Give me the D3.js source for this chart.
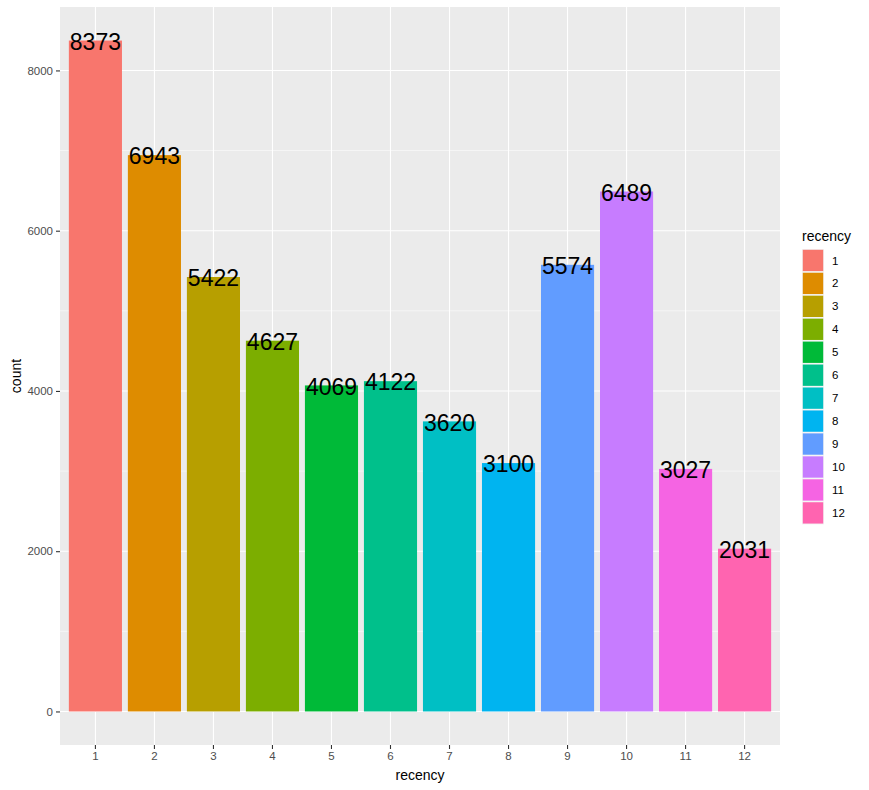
<!DOCTYPE html>
<html>
<head>
<meta charset="utf-8">
<script src="https://cdn.jsdelivr.net/npm/d3@7"></script>
<style>
body { margin: 0; background: #fff; }
text { font-family: Arial, "Liberation Sans", sans-serif; }
</style>
</head>
<body>
<div id="chart"></div>
<script>
var categories = ["1", "2", "3", "4", "5", "6", "7", "8", "9", "10", "11", "12"];
var counts = [8373, 6943, 5422, 4627, 4069, 4122, 3620, 3100, 5574, 6489, 3027, 2031];
var colors = ["#F8766D", "#DE8C00", "#B79F00", "#7CAE00", "#00BA38", "#00C08B",
              "#00BFC4", "#00B4F0", "#619CFF", "#C77CFF", "#F564E3", "#FF64B0"];
var yTicks = [0, 2000, 4000, 6000, 8000];
var yMinor = [1000, 3000, 5000, 7000];

var W = 869, H = 790;
var panel = { left: 60, top: 7, right: 780, bottom: 745 };

var svg = d3.select("#chart").append("svg")
    .attr("width", W)
    .attr("height", H);

var maxC = d3.max(counts);
var y = d3.scaleLinear()
    .domain([-0.05 * maxC, 1.05 * maxC])
    .range([panel.bottom, panel.top]);

// discrete scale with 0.6 expansion on each side
var step = (panel.right - panel.left) / (categories.length + 0.2);
var x = d3.scaleBand()
    .domain(categories)
    .range([panel.left + 0.1 * step, panel.right - 0.1 * step])
    .paddingInner(0.1)
    .paddingOuter(0.05);
function xc(c) { return x(c) + x.bandwidth() / 2; }

// panel background
svg.append("rect")
    .attr("x", panel.left).attr("y", panel.top)
    .attr("width", panel.right - panel.left)
    .attr("height", panel.bottom - panel.top)
    .attr("fill", "#EBEBEB");

var grid = svg.append("g");
grid.selectAll(".minor").data(yMinor).enter().append("line")
    .attr("x1", panel.left).attr("x2", panel.right)
    .attr("y1", function (d) { return y(d); })
    .attr("y2", function (d) { return y(d); })
    .attr("stroke", "#fff").attr("stroke-width", 0.55);
grid.selectAll(".major").data(yTicks).enter().append("line")
    .attr("x1", panel.left).attr("x2", panel.right)
    .attr("y1", function (d) { return y(d); })
    .attr("y2", function (d) { return y(d); })
    .attr("stroke", "#fff").attr("stroke-width", 1.1);
grid.selectAll(".vmajor").data(categories).enter().append("line")
    .attr("y1", panel.top).attr("y2", panel.bottom)
    .attr("x1", function (d) { return xc(d); })
    .attr("x2", function (d) { return xc(d); })
    .attr("stroke", "#fff").attr("stroke-width", 1.1);

// bars
svg.append("g").selectAll("rect")
    .data(categories)
    .enter()
    .append("rect")
    .attr("x", function (d) { return x(d); })
    .attr("width", x.bandwidth())
    .attr("y", function (d, i) { return y(counts[i]); })
    .attr("height", function (d, i) { return y(0) - y(counts[i]); })
    .attr("fill", function (d, i) { return colors[i]; });

// value labels
svg.append("g").selectAll("text")
    .data(categories)
    .enter()
    .append("text")
    .attr("x", function (d) { return xc(d); })
    .attr("y", function (d, i) { return y(counts[i]); })
    .attr("dy", "0.4em")
    .attr("text-anchor", "middle")
    .attr("font-size", 23)
    .attr("fill", "#000")
    .text(function (d, i) { return counts[i]; });

// axes
var yAxis = svg.append("g")
    .attr("transform", "translate(" + panel.left + ",0)")
    .call(d3.axisLeft(y).tickValues(yTicks).tickSize(4).tickPadding(3).tickFormat(d3.format("d")));
var xAxis = svg.append("g")
    .attr("transform", "translate(0," + panel.bottom + ")")
    .call(d3.axisBottom(x).tickSize(4).tickPadding(3));
[yAxis, xAxis].forEach(function (a) {
    a.select(".domain").remove();
    a.selectAll(".tick line").attr("stroke", "#333").attr("stroke-width", 1.1);
    a.selectAll(".tick text").attr("fill", "#4D4D4D").attr("font-size", 11.5)
        .style("font-family", "Arial, 'Liberation Sans', sans-serif");
});

// axis titles
svg.append("text")
    .attr("x", (panel.left + panel.right) / 2)
    .attr("y", 780)
    .attr("text-anchor", "middle")
    .attr("font-size", 14)
    .attr("fill", "#000")
    .text("recency");
svg.append("text")
    .attr("transform", "rotate(-90)")
    .attr("x", -(panel.top + panel.bottom) / 2)
    .attr("y", 21)
    .attr("text-anchor", "middle")
    .attr("font-size", 14)
    .attr("fill", "#000")
    .text("count");

// legend
var legend = svg.append("g")
    .attr("transform", "translate(802,249)");
legend.append("text")
    .attr("x", 0).attr("y", -8)
    .attr("font-size", 14)
    .attr("fill", "#000")
    .text("recency");
categories.forEach(function (d, i) {
    var item = legend.append("g")
        .attr("transform", "translate(0," + (i * 22.95) + ")");
    item.append("rect")
        .attr("width", 22).attr("height", 22.95)
        .attr("fill", "#F2F2F2");
    item.append("rect")
        .attr("x", 0.8).attr("y", 0.8)
        .attr("width", 20.4).attr("height", 21.3)
        .attr("fill", colors[i]);
    item.append("text")
        .attr("x", 30).attr("y", 11.5)
        .attr("dy", "0.35em")
        .attr("font-size", 11.5)
        .attr("fill", "#000")
        .text(d);
});
</script>
</body>
</html>
